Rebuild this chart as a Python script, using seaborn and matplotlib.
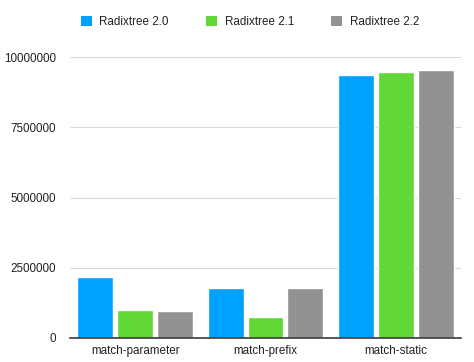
import matplotlib
matplotlib.use("Agg")
import matplotlib.pyplot as plt
from matplotlib.patches import Patch
import seaborn as sns
import pandas as pd

categories = ["match-parameter", "match-prefix", "match-static"]
series = ["Radixtree 2.0", "Radixtree 2.1", "Radixtree 2.2"]
v20 = [2150000, 1770000, 9360000]
v21 = [990000, 730000, 9460000]
v22 = [940000, 1770000, 9540000]
colors = ["#00A2FF", "#61D836", "#929292"]
yticks = [0, 2500000, 5000000, 7500000, 10000000]

rows = []
for s, vals in zip(series, [v20, v21, v22]):
    for c, v in zip(categories, vals):
        rows.append({"cat": c, "series": s, "value": v})
df = pd.DataFrame(rows)

sns.set_theme(style="white")
plt.rcParams["font.family"] = ["Liberation Sans", "DejaVu Sans"]
FS = 8.4

fig = plt.figure(figsize=(4.74, 3.62), dpi=100)
ax = fig.add_axes([70 / 474, 1 - 337.7 / 362, 391 / 474, (337.7 - 57.3) / 362])
sns.barplot(data=df, x="cat", y="value", hue="series", palette=colors,
            width=0.92, gap=0.1, saturation=1, ax=ax, legend=True)
ax.set_xlim(-0.5, 2.5)
ax.set_ylim(0, 10000000)
ax.set_yticks(yticks)
ax.set_yticklabels([str(t) for t in yticks])
ax.yaxis.grid(True, color="#DADADA", linewidth=0.8)
ax.set_axisbelow(True)
for s in ["left", "right", "top"]:
    ax.spines[s].set_visible(False)
ax.spines["bottom"].set_color("#3A3A3A")
ax.spines["bottom"].set_linewidth(1.2)
ax.set_xlabel("")
ax.set_ylabel("")
ax.tick_params(axis="both", length=0, labelsize=FS, colors="#222222")
ax.tick_params(axis="y", pad=10)
ax.tick_params(axis="x", pad=5)

ax.get_legend().remove()
handles = [Patch(facecolor=c, edgecolor="none", linewidth=0) for c in colors]
fig.legend(handles, series, loc="center", bbox_to_anchor=(250 / 474, 1 - 22 / 362), ncol=3,
           frameon=False, fontsize=FS, handlelength=0.95, handleheight=0.95,
           columnspacing=3.2, handletextpad=0.65, labelcolor="#222222")

fig.savefig("out.png", dpi=100)
